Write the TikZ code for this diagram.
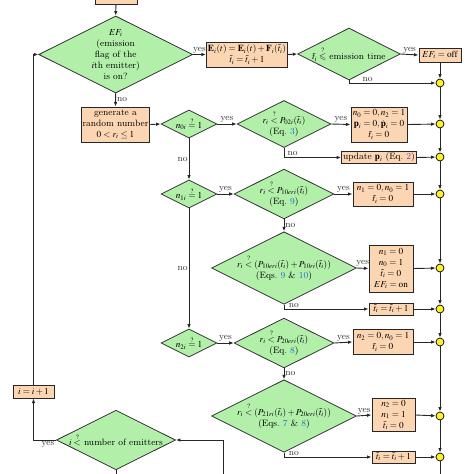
\documentclass[tikz,border=0pt]{standalone}
\usepackage{amsmath,amssymb}
\usepackage{mathptmx}
\usetikzlibrary{shapes.geometric,arrows.meta}
\definecolor{dfill}{RGB}{178,240,170}
\definecolor{bfill}{RGB}{252,214,178}
\definecolor{jfill}{RGB}{255,240,40}
\definecolor{eqc}{RGB}{30,110,200}
\definecolor{eqp}{RGB}{130,60,170}
\tikzset{
  txt/.style={font=\fontsize{9.2}{11}\selectfont},
  dec/.style={txt, diamond, draw=black!80, fill=dfill, line width=0.8pt, inner sep=0pt, aspect=2, align=center},
  proc/.style={txt, rectangle, draw=black!85, fill=bfill, line width=1pt, inner sep=1.5pt, align=center},
  junc/.style={circle, draw=black, fill=jfill, line width=0.7pt, minimum size=8pt, inner sep=0pt},
  arr/.style={draw=black!85, line width=0.9pt, -{Latex[length=4.5pt,width=3.5pt]}},
  ln/.style={draw=black!85, line width=0.9pt},
  lbl/.style={txt, inner sep=1pt, text=black!80}
}
\begin{document}
\begin{tikzpicture}[x=1pt,y=-1pt]
\useasboundingbox (0,0) rectangle (474,474);
\clip (0,0) rectangle (474,474);
% top (cut) box
\node[proc, minimum width=42pt, minimum height=16pt] (top) at (116,-4) {};
% decisions and processes
\node[dec, minimum width=154pt, minimum height=77pt] (d1) at (115.7,54.5) {$EF_i$\\(emission\\flag of the\\$i$th emitter)\\is on?};
\node[proc, minimum width=80pt, minimum height=25pt] (b1) at (247,54.5) {$\mathbf{E}_i(t)=\mathbf{E}_i(t)+\mathbf{F}_i(\tilde{t}_i)$\\$\tilde{t}_i=\tilde{t}_i+1$};
\node[dec, minimum width=102pt, minimum height=52pt] (d2) at (349,54) {$\tilde{t}_i\overset{?}{\leqslant}$ emission time};
\node[proc, minimum width=42pt, minimum height=14pt] (off) at (440,55) {$EF_i=\mathrm{off}$};
\node[proc, minimum width=65pt, minimum height=35pt] (gen) at (115.5,124.5) {generate a\\random number\\$0<r_i\le 1$};
\node[dec, minimum width=56pt, minimum height=28pt] (n0) at (189,124) {$n_{0i}\overset{?}{=}1$};
\node[dec, minimum width=94pt, minimum height=46pt] (p02) at (284,124) {$r_i\overset{?}{<}P_{02i}(\tilde{t}_i)$\\(Eq.~\textcolor{eqc}{3})};
\node[proc, minimum width=56pt, minimum height=35pt] (s1) at (379,124.5) {$n_0=0,n_2=1$\\$\mathbf{p}_i=0,\dot{\mathbf{p}}_i=0$\\$\tilde{t}_i=0$};
\node[proc, minimum width=68pt, minimum height=12pt] (upd) at (379,157.5) {update $\mathbf{p}_i$ (Eq.~\textcolor{eqp}{2})};
\node[dec, minimum width=56pt, minimum height=28pt] (n1) at (189,194) {$n_{1i}\overset{?}{=}1$};
\node[dec, minimum width=95pt, minimum height=49pt] (p10) at (284,194) {$r_i\overset{?}{<}P_{10eri}(\tilde{t}_i)$\\(Eq.~\textcolor{eqc}{9})};
\node[proc, minimum width=60pt, minimum height=24pt] (s2) at (383,194) {$n_1=0,n_0=1$\\$\tilde{t}_i=0$};
\node[dec, minimum width=142pt, minimum height=72pt] (p10b) at (284,268) {$r_i\overset{?}{<}(P_{10eri}(\tilde{t}_i)+P_{10ri}(\tilde{t}_i))$\\(Eqs.~\textcolor{eqc}{9} \& \textcolor{eqc}{10})};
\node[proc, minimum width=44pt, minimum height=47pt] (s3) at (391,268.5) {$n_1=0$\\$n_0=1$\\$\tilde{t}_i=0$\\$EF_i=\mathrm{on}$};
\node[proc, minimum width=44pt, minimum height=12pt] (s4) at (391,309) {$\tilde{t}_i=\tilde{t}_i+1$};
\node[dec, minimum width=56pt, minimum height=28pt] (n2) at (189,343) {$n_{2i}\overset{?}{=}1$};
\node[dec, minimum width=97pt, minimum height=46pt] (p20) at (284,343) {$r_i\overset{?}{<}P_{20eri}(\tilde{t}_i)$\\(Eq.~\textcolor{eqc}{8})};
\node[proc, minimum width=60pt, minimum height=25pt] (s5) at (383,342) {$n_2=0,n_0=1$\\$\tilde{t}_i=0$};
\node[dec, minimum width=144pt, minimum height=72pt] (p21) at (284,416) {$r_i\overset{?}{<}(P_{21ri}(\tilde{t}_i)+P_{20eri}(\tilde{t}_i))$\\(Eqs.~\textcolor{eqc}{7} \& \textcolor{eqc}{8})};
\node[proc, minimum width=43pt, minimum height=32pt] (s6) at (393.5,415) {$n_2=0$\\$n_1=1$\\$\tilde{t}_i=0$};
\node[proc, minimum width=43pt, minimum height=12pt] (s7) at (393.5,457) {$\tilde{t}_i=\tilde{t}_i+1$};
\node[proc, minimum width=41pt, minimum height=13pt] (inc) at (33.5,391.5) {$i=i+1$};
\node[dec, minimum width=114pt, minimum height=56pt] (dN) at (116,440) {$i\overset{?}{<}$ number of emitters};
% junctions
\node[junc] (j1) at (440,83) {};
\node[junc] (j2) at (440,124) {};
\node[junc] (j3) at (440,157) {};
\node[junc] (j4) at (440,194) {};
\node[junc] (j5) at (440,268) {};
\node[junc] (j6) at (440,309) {};
\node[junc] (j7) at (440,342) {};
\node[junc] (j8) at (440,416) {};
\node[junc] (j9) at (440,457) {};
\coordinate (bb) at (440,490);
\coordinate (cc) at (223,490);
\coordinate (dd) at (116,490);
% connectors
\draw[arr] (top) -- (d1.north);
\draw[arr] (d1.east) -- node[lbl, above] {yes} (b1.west);
\draw[arr] (b1.east) -- (d2.west);
\draw[arr] (d2.east) -- node[lbl, above] {yes} (off.west);
\draw[arr] (d2.south) |- node[lbl, pos=0.57, anchor=south west] {no} (j1);
\draw[arr] (d1.south) -- node[lbl, right] {no} (gen.north);
\draw[arr] (gen.east) -- (n0.west);
\draw[arr] (n0.east) -- node[lbl, above] {yes} (p02.west);
\draw[arr] (p02.east) -- node[lbl, above] {yes} (s1.west);
\draw[arr] (s1.east) -- (j2);
\draw[arr] (p02.south) |- node[lbl, pos=0.52, anchor=south west] {no} (upd.west);
\draw[arr] (upd.east) -- (j3);
\draw[arr] (n0.south) -- node[lbl, left] {no} (n1.north);
\draw[arr] (n1.east) -- node[lbl, above] {yes} (p10.west);
\draw[arr] (p10.east) -- node[lbl, above] {yes} (s2.west);
\draw[arr] (s2.east) -- (j4);
\draw[arr] (p10.south) -- node[lbl, right] {no} (p10b.north);
\draw[arr] (p10b.east) -- node[lbl, above] {yes} (s3.west);
\draw[arr] (s3.east) -- (j5);
\draw[arr] (p10b.south) |- node[lbl, pos=0.52, anchor=south west] {no} (s4.west);
\draw[arr] (s4.east) -- (j6);
\draw[arr] (n1.south) -- node[lbl, left] {no} (n2.north);
\draw[arr] (n2.east) -- node[lbl, above] {yes} (p20.west);
\draw[arr] (p20.east) -- node[lbl, above] {yes} (s5.west);
\draw[arr] (s5.east) -- (j7);
\draw[arr] (p20.south) -- node[lbl, right] {no} (p21.north);
\draw[arr] (p21.east) -- node[lbl, above] {yes} (s6.west);
\draw[arr] (s6.east) -- (j8);
\draw[arr] (p21.south) |- node[lbl, pos=0.52, anchor=south west] {no} (s7.west);
\draw[arr] (s7.east) -- (j9);
% bus
\draw[arr] (off.south) -- (j1);
\draw[arr] (j1) -- (j2);
\draw[arr] (j2) -- (j3);
\draw[arr] (j3) -- (j4);
\draw[arr] (j4) -- (j5);
\draw[arr] (j5) -- (j6);
\draw[arr] (j6) -- (j7);
\draw[arr] (j7) -- (j8);
\draw[arr] (j8) -- (j9);
\draw[arr] (j9) -- (bb) -- (cc) |- (dN.east);
% loop
\draw[arr] (dN.west) -| node[lbl, pos=0.18, below] {yes} (inc.south);
\draw[arr] (inc.north) |- (d1.west);
\draw[ln] (dN.south) -- (dd);
\end{tikzpicture}
\end{document}
